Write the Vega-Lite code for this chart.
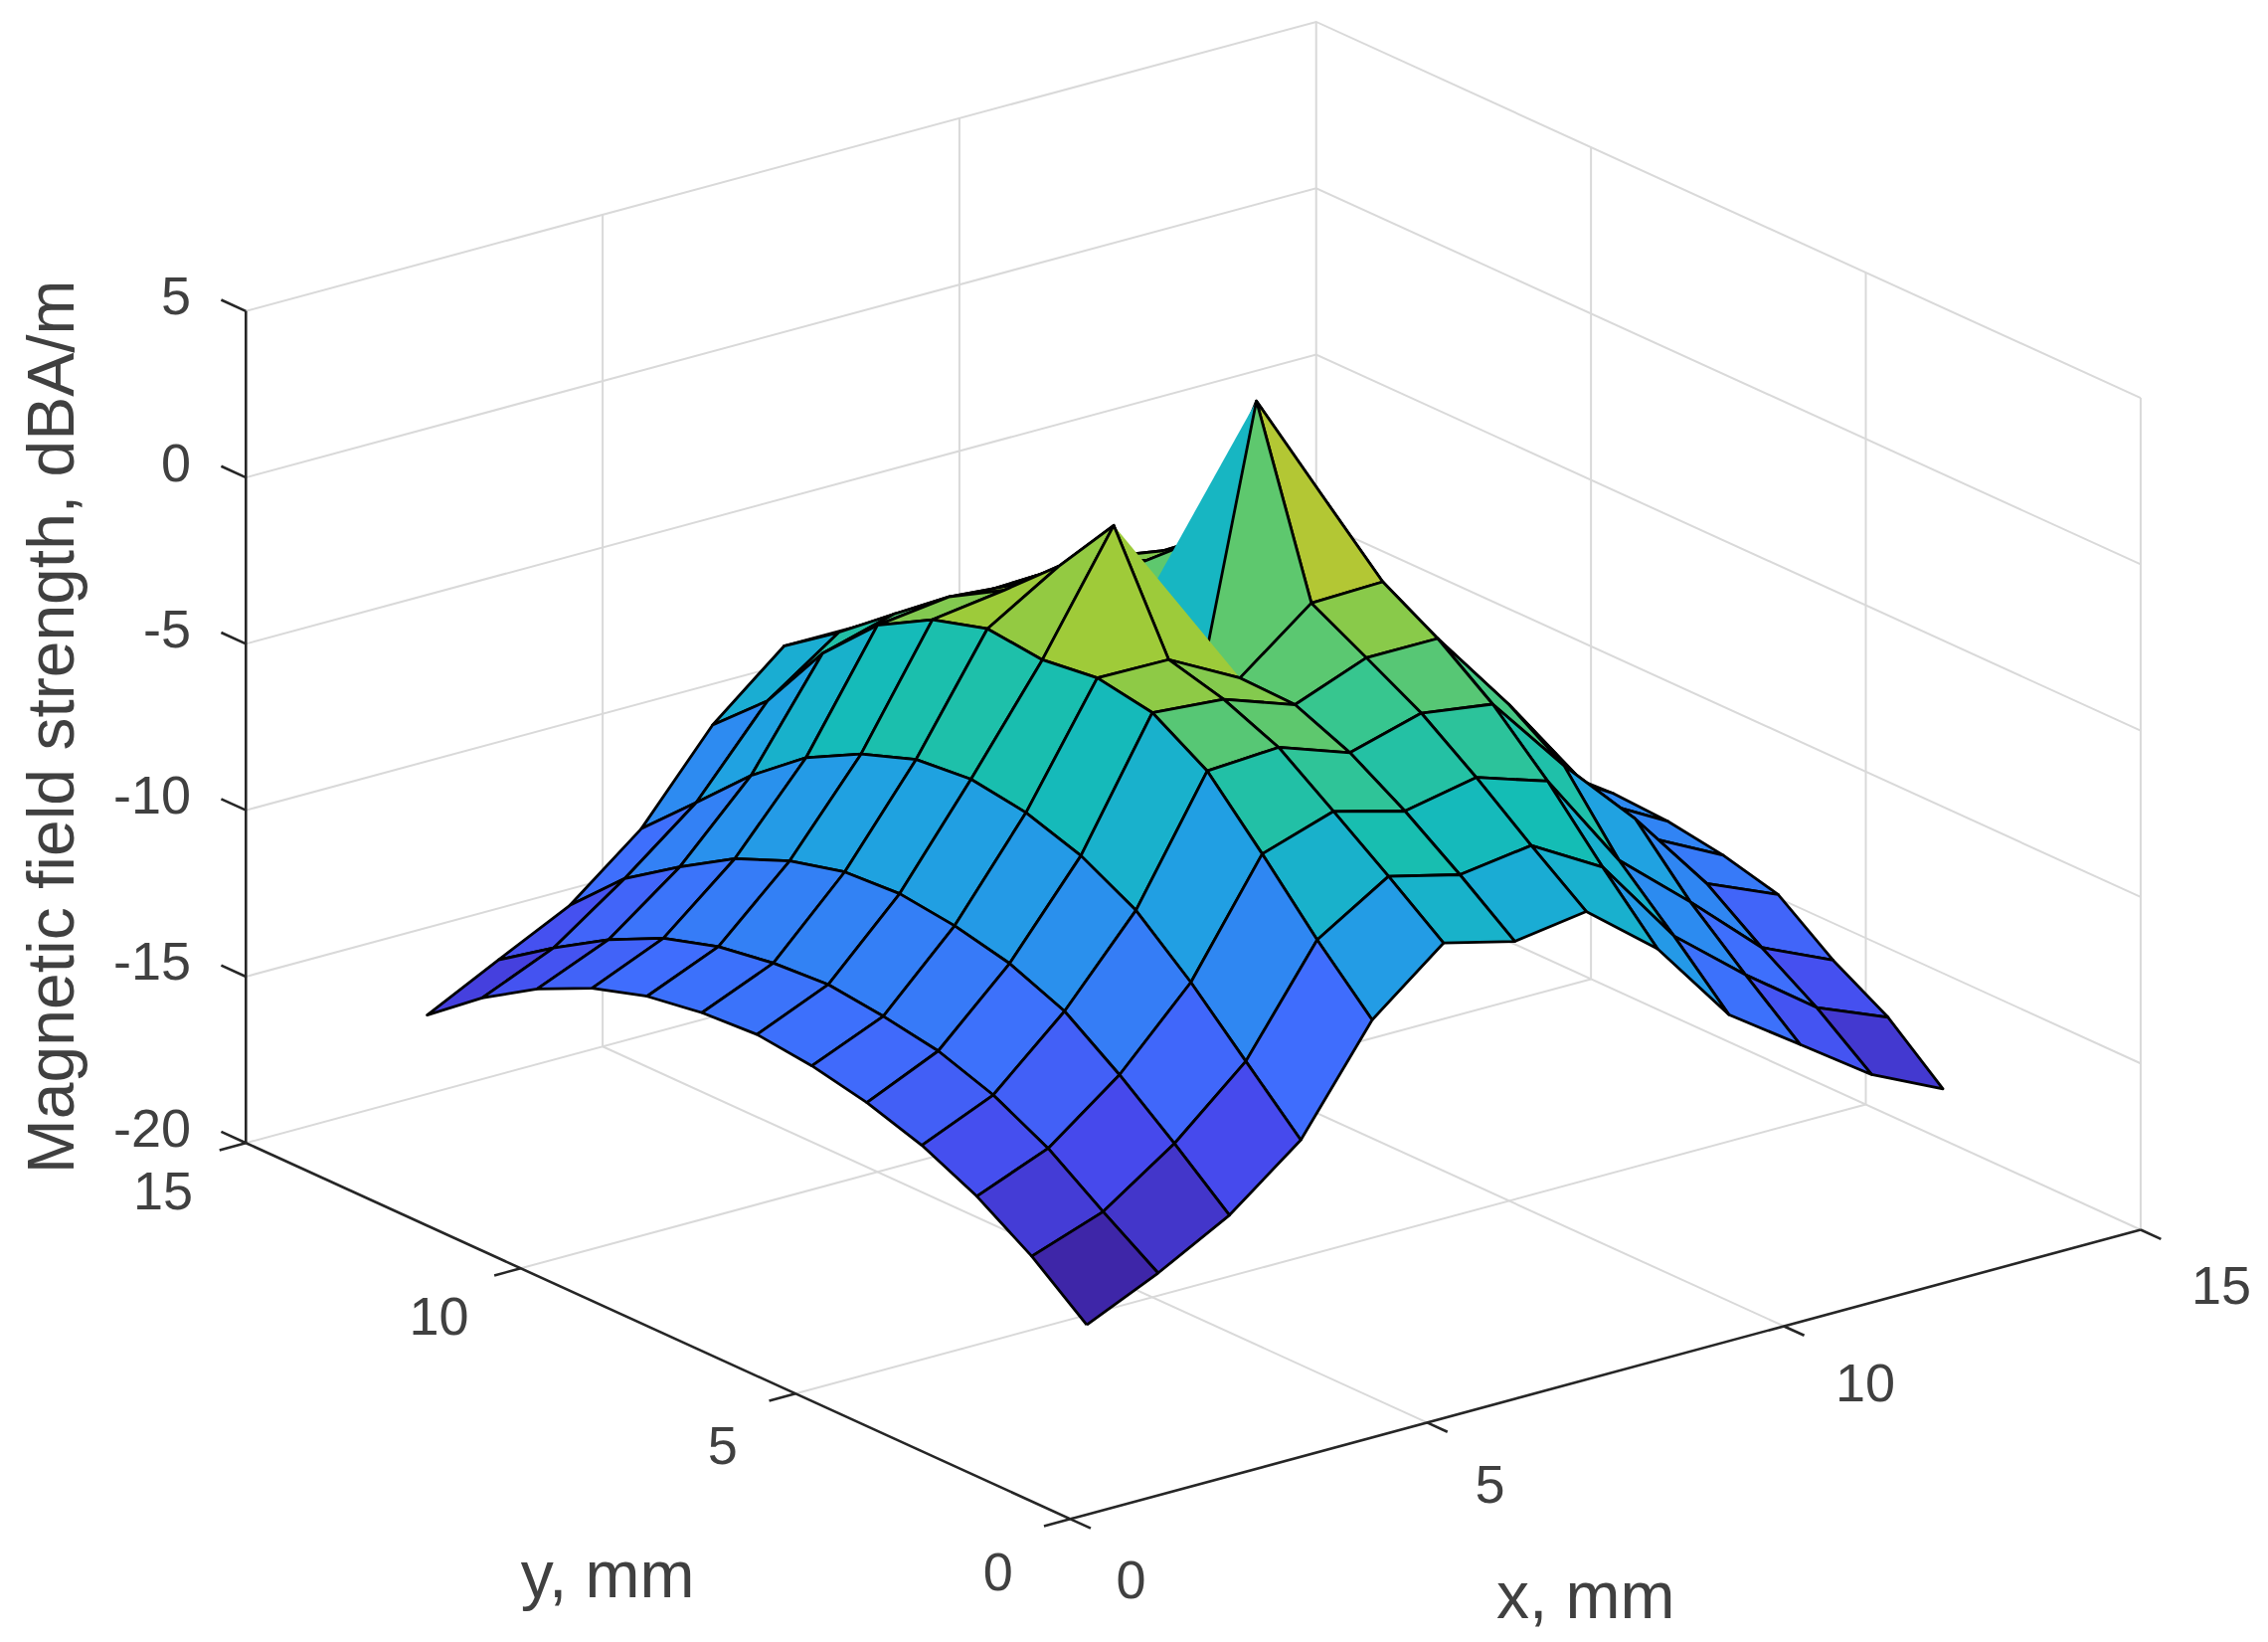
{
  "$schema": "https://vega.github.io/schema/vega-lite/v6.json",
  "width": 2281,
  "height": 1651,
  "padding": 0,
  "autosize": {"type": "none"},
  "background": "white",
  "view": {"stroke": null},
  "datasets": {
    "surface": [
      {"id":"13_13","x":13,"y":13,"z":-15.04},{"id":"13_12","x":13,"y":12,"z":-13.74},{"id":"13_11","x":13,"y":11,"z":-12.7},{"id":"13_10","x":13,"y":10,"z":-11.91},{"id":"13_9","x":13,"y":9,"z":-11.39},{"id":"13_8","x":13,"y":8,"z":-11.09},{"id":"13_7","x":13,"y":7,"z":-11},{"id":"13_6","x":13,"y":6,"z":-11.09},{"id":"13_5","x":13,"y":5,"z":-11.35},{"id":"13_4","x":13,"y":4,"z":-11.78},{"id":"13_3","x":13,"y":3,"z":-13},{"id":"13_2","x":13,"y":2,"z":-13.96},{"id":"13_1","x":13,"y":1,"z":-15.36},
      {"id":"12_13","x":12,"y":13,"z":-13.65},{"id":"12_12","x":12,"y":12,"z":-12.48},{"id":"12_11","x":12,"y":11,"z":-11.43},{"id":"12_10","x":12,"y":10,"z":-10.65},{"id":"12_9","x":12,"y":9,"z":-10.09},{"id":"12_8","x":12,"y":8,"z":-9.83},{"id":"12_7","x":12,"y":7,"z":-9.74},{"id":"12_6","x":12,"y":6,"z":-9.91},{"id":"12_5","x":12,"y":5,"z":-10.26},{"id":"12_4","x":12,"y":4,"z":-10.87},{"id":"12_3","x":12,"y":3,"z":-12.04},{"id":"12_2","x":12,"y":2,"z":-13.09},{"id":"12_1","x":12,"y":1,"z":-14.35},
      {"id":"11_13","x":11,"y":13,"z":-12.61},{"id":"11_12","x":11,"y":12,"z":-11.09},{"id":"11_11","x":11,"y":11,"z":-9.87},{"id":"11_10","x":11,"y":10,"z":-8.87},{"id":"11_9","x":11,"y":9,"z":-8.13},{"id":"11_8","x":11,"y":8,"z":-7.61},{"id":"11_7","x":11,"y":7,"z":-7.48},{"id":"11_6","x":11,"y":6,"z":-7.61},{"id":"11_5","x":11,"y":5,"z":-7.91},{"id":"11_4","x":11,"y":4,"z":-8.35},{"id":"11_3","x":11,"y":3,"z":-10.09},{"id":"11_2","x":11,"y":2,"z":-11.52},{"id":"11_1","x":11,"y":1,"z":-12.87},
      {"id":"10_13","x":10,"y":13,"z":-10.96},{"id":"10_12","x":10,"y":12,"z":-9.3},{"id":"10_11","x":10,"y":11,"z":-7.74},{"id":"10_10","x":10,"y":10,"z":-6.43},{"id":"10_9","x":10,"y":9,"z":-5.57},{"id":"10_8","x":10,"y":8,"z":-5},{"id":"10_7","x":10,"y":7,"z":-4.7},{"id":"10_6","x":10,"y":6,"z":-4.78},{"id":"10_5","x":10,"y":5,"z":-5.09},{"id":"10_4","x":10,"y":4,"z":-6.17},{"id":"10_3","x":10,"y":3,"z":-8.26},{"id":"10_2","x":10,"y":2,"z":-9.78},{"id":"10_1","x":10,"y":1,"z":-11.39},
      {"id":"9_13","x":9,"y":13,"z":-8.78},{"id":"9_12","x":9,"y":12,"z":-7.3},{"id":"9_11","x":9,"y":11,"z":-5.13},{"id":"9_10","x":9,"y":10,"z":-3.65},{"id":"9_9","x":9,"y":9,"z":-2.39},{"id":"9_8","x":9,"y":8,"z":-1.74},{"id":"9_7","x":9,"y":7,"z":0.03},{"id":"9_6","x":9,"y":6,"z":-1.57},{"id":"9_5","x":9,"y":5,"z":-2.52},{"id":"9_4","x":9,"y":4,"z":-3.74},{"id":"9_3","x":9,"y":3,"z":-5.3},{"id":"9_2","x":9,"y":2,"z":-7.13},{"id":"9_1","x":9,"y":1,"z":-8.83},
      {"id":"8_13","x":8,"y":13,"z":-7.04},{"id":"8_12","x":8,"y":12,"z":-5.83},{"id":"8_11","x":8,"y":11,"z":-4.57},{"id":"8_10","x":8,"y":10,"z":-3.3},{"id":"8_9","x":8,"y":9,"z":-2.61},{"id":"8_8","x":8,"y":8,"z":-1.19},{"id":"8_7","x":8,"y":7,"z":3.69},{"id":"8_6","x":8,"y":6,"z":-1.63},{"id":"8_5","x":8,"y":5,"z":-2.52},{"id":"8_4","x":8,"y":4,"z":-3.43},{"id":"8_3","x":8,"y":3,"z":-4.61},{"id":"8_2","x":8,"y":2,"z":-5.9},{"id":"8_1","x":8,"y":1,"z":-7.13},
      {"id":"7_13","x":7,"y":13,"z":-7.04},{"id":"7_12","x":7,"y":12,"z":-6},{"id":"7_11","x":7,"y":11,"z":-4.7},{"id":"7_10","x":7,"y":10,"z":-3.48},{"id":"7_9","x":7,"y":9,"z":-2.83},{"id":"7_8","x":7,"y":8,"z":-3.3},{"id":"7_7","x":7,"y":7,"z":-6.52},{"id":"7_6","x":7,"y":6,"z":-3.3},{"id":"7_5","x":7,"y":5,"z":-3.35},{"id":"7_4","x":7,"y":4,"z":-4.04},{"id":"7_3","x":7,"y":3,"z":-5.04},{"id":"7_2","x":7,"y":2,"z":-6.2},{"id":"7_1","x":7,"y":1,"z":-7.45},
      {"id":"6_13","x":6,"y":13,"z":-7.04},{"id":"6_12","x":6,"y":12,"z":-5.87},{"id":"6_11","x":6,"y":11,"z":-4.57},{"id":"6_10","x":6,"y":10,"z":-3.3},{"id":"6_9","x":6,"y":9,"z":-2.35},{"id":"6_8","x":6,"y":8,"z":-0.87},{"id":"6_7","x":6,"y":7,"z":1.11},{"id":"6_6","x":6,"y":6,"z":-2.17},{"id":"6_5","x":6,"y":5,"z":-2.61},{"id":"6_4","x":6,"y":4,"z":-3.3},{"id":"6_3","x":6,"y":3,"z":-4.47},{"id":"6_2","x":6,"y":2,"z":-5.67},{"id":"6_1","x":6,"y":1,"z":-6.92},
      {"id":"5_13","x":5,"y":13,"z":-8.83},{"id":"5_12","x":5,"y":12,"z":-7.35},{"id":"5_11","x":5,"y":11,"z":-5.17},{"id":"5_10","x":5,"y":10,"z":-3.57},{"id":"5_9","x":5,"y":9,"z":-2.65},{"id":"5_8","x":5,"y":8,"z":-2.17},{"id":"5_7","x":5,"y":7,"z":-2.35},{"id":"5_6","x":5,"y":6,"z":-2.14},{"id":"5_5","x":5,"y":5,"z":-2.43},{"id":"5_4","x":5,"y":4,"z":-3.43},{"id":"5_3","x":5,"y":3,"z":-5.17},{"id":"5_2","x":5,"y":2,"z":-7},{"id":"5_1","x":5,"y":1,"z":-8.65},
      {"id":"4_13","x":4,"y":13,"z":-11.37},{"id":"4_12","x":4,"y":12,"z":-9.83},{"id":"4_11","x":4,"y":11,"z":-8.26},{"id":"4_10","x":4,"y":10,"z":-6.97},{"id":"4_9","x":4,"y":9,"z":-6.11},{"id":"4_8","x":4,"y":8,"z":-5.52},{"id":"4_7","x":4,"y":7,"z":-5.36},{"id":"4_6","x":4,"y":6,"z":-5.61},{"id":"4_5","x":4,"y":5,"z":-6.15},{"id":"4_4","x":4,"y":4,"z":-7.04},{"id":"4_3","x":4,"y":3,"z":-8.45},{"id":"4_2","x":4,"y":2,"z":-10.07},{"id":"4_1","x":4,"y":1,"z":-11.68},
      {"id":"3_13","x":3,"y":13,"z":-13.09},{"id":"3_12","x":3,"y":12,"z":-11.53},{"id":"3_11","x":3,"y":11,"z":-10.43},{"id":"3_10","x":3,"y":10,"z":-9.43},{"id":"3_9","x":3,"y":9,"z":-8.74},{"id":"3_8","x":3,"y":8,"z":-8.32},{"id":"3_7","x":3,"y":7,"z":-8.22},{"id":"3_6","x":3,"y":6,"z":-8.43},{"id":"3_5","x":3,"y":5,"z":-8.81},{"id":"3_4","x":3,"y":4,"z":-9.49},{"id":"3_3","x":3,"y":3,"z":-10.65},{"id":"3_2","x":3,"y":2,"z":-11.96},{"id":"3_1","x":3,"y":1,"z":-13.36},
      {"id":"2_13","x":2,"y":13,"z":-14.15},{"id":"2_12","x":2,"y":12,"z":-13.04},{"id":"2_11","x":2,"y":11,"z":-12.04},{"id":"2_10","x":2,"y":10,"z":-11.24},{"id":"2_9","x":2,"y":9,"z":-10.74},{"id":"2_8","x":2,"y":8,"z":-10.48},{"id":"2_7","x":2,"y":7,"z":-10.37},{"id":"2_6","x":2,"y":6,"z":-10.57},{"id":"2_5","x":2,"y":5,"z":-10.86},{"id":"2_4","x":2,"y":4,"z":-11.43},{"id":"2_3","x":2,"y":3,"z":-12.28},{"id":"2_2","x":2,"y":2,"z":-13.43},{"id":"2_1","x":2,"y":1,"z":-14.52},
      {"id":"1_13","x":1,"y":13,"z":-15.23},{"id":"1_12","x":1,"y":12,"z":-13.96},{"id":"1_11","x":1,"y":11,"z":-12.94},{"id":"1_10","x":1,"y":10,"z":-12.16},{"id":"1_9","x":1,"y":9,"z":-11.65},{"id":"1_8","x":1,"y":8,"z":-11.39},{"id":"1_7","x":1,"y":7,"z":-11.29},{"id":"1_6","x":1,"y":6,"z":-11.48},{"id":"1_5","x":1,"y":5,"z":-11.83},{"id":"1_4","x":1,"y":4,"z":-12.36},{"id":"1_3","x":1,"y":3,"z":-13.14},{"id":"1_2","x":1,"y":2,"z":-14.19},{"id":"1_1","x":1,"y":1,"z":-15.5}
    ],
    "grid": [
      {"line":"fx5","x":5,"y":0,"z":-20},{"line":"fx5","x":5,"y":15,"z":-20},
      {"line":"fx10","x":10,"y":0,"z":-20},{"line":"fx10","x":10,"y":15,"z":-20},
      {"line":"fx15","x":15,"y":0,"z":-20},{"line":"fx15","x":15,"y":15,"z":-20},
      {"line":"fy5","x":0,"y":5,"z":-20},{"line":"fy5","x":15,"y":5,"z":-20},
      {"line":"fy10","x":0,"y":10,"z":-20},{"line":"fy10","x":15,"y":10,"z":-20},
      {"line":"fy15","x":0,"y":15,"z":-20},{"line":"fy15","x":15,"y":15,"z":-20},
      {"line":"z-15","x":0,"y":15,"z":-15},{"line":"z-15","x":15,"y":15,"z":-15},{"line":"z-15","x":15,"y":0,"z":-15},
      {"line":"z-10","x":0,"y":15,"z":-10},{"line":"z-10","x":15,"y":15,"z":-10},{"line":"z-10","x":15,"y":0,"z":-10},
      {"line":"z-5","x":0,"y":15,"z":-5},{"line":"z-5","x":15,"y":15,"z":-5},{"line":"z-5","x":15,"y":0,"z":-5},
      {"line":"z0","x":0,"y":15,"z":0},{"line":"z0","x":15,"y":15,"z":0},{"line":"z0","x":15,"y":0,"z":0},
      {"line":"z5","x":0,"y":15,"z":5},{"line":"z5","x":15,"y":15,"z":5},{"line":"z5","x":15,"y":0,"z":5},
      {"line":"vx5","x":5,"y":15,"z":-20},{"line":"vx5","x":5,"y":15,"z":5},
      {"line":"vx10","x":10,"y":15,"z":-20},{"line":"vx10","x":10,"y":15,"z":5},
      {"line":"vx15","x":15,"y":15,"z":-20},{"line":"vx15","x":15,"y":15,"z":5},
      {"line":"vy10","x":15,"y":10,"z":-20},{"line":"vy10","x":15,"y":10,"z":5},
      {"line":"vy5","x":15,"y":5,"z":-20},{"line":"vy5","x":15,"y":5,"z":5},
      {"line":"vy0","x":15,"y":0,"z":-20},{"line":"vy0","x":15,"y":0,"z":5}
    ],
    "axes": [
      {"line":"ax","x":0,"y":0,"z":-20},{"line":"ax","x":15,"y":0,"z":-20},
      {"line":"ay","x":0,"y":0,"z":-20},{"line":"ay","x":0,"y":15,"z":-20},
      {"line":"az","x":0,"y":15,"z":-20},{"line":"az","x":0,"y":15,"z":5},
      {"line":"tx0","x":0,"y":0,"z":-20},{"line":"tx0","x":0,"y":-0.37,"z":-20},
      {"line":"tx5","x":5,"y":0,"z":-20},{"line":"tx5","x":5,"y":-0.37,"z":-20},
      {"line":"tx10","x":10,"y":0,"z":-20},{"line":"tx10","x":10,"y":-0.37,"z":-20},
      {"line":"tx15","x":15,"y":0,"z":-20},{"line":"tx15","x":15,"y":-0.37,"z":-20},
      {"line":"ty0","x":0,"y":0,"z":-20},{"line":"ty0","x":-0.37,"y":0,"z":-20},
      {"line":"ty5","x":0,"y":5,"z":-20},{"line":"ty5","x":-0.37,"y":5,"z":-20},
      {"line":"ty10","x":0,"y":10,"z":-20},{"line":"ty10","x":-0.37,"y":10,"z":-20},
      {"line":"ty15","x":0,"y":15,"z":-20},{"line":"ty15","x":-0.37,"y":15,"z":-20},
      {"line":"tz-20","x":0,"y":15,"z":-20},{"line":"tz-20","x":0,"y":15.45,"z":-20},
      {"line":"tz-15","x":0,"y":15,"z":-15},{"line":"tz-15","x":0,"y":15.45,"z":-15},
      {"line":"tz-10","x":0,"y":15,"z":-10},{"line":"tz-10","x":0,"y":15.45,"z":-10},
      {"line":"tz-5","x":0,"y":15,"z":-5},{"line":"tz-5","x":0,"y":15.45,"z":-5},
      {"line":"tz0","x":0,"y":15,"z":0},{"line":"tz0","x":0,"y":15.45,"z":0},
      {"line":"tz5","x":0,"y":15,"z":5},{"line":"tz5","x":0,"y":15.45,"z":5}
    ],
    "ticks": [
      {"label":"0","x":-0.69,"y":-2,"z":-20},{"label":"5","x":4.31,"y":-2.04,"z":-20},{"label":"10","x":9.57,"y":-2.04,"z":-20},{"label":"15","x":14.59,"y":-2,"z":-20},
      {"label":"0","x":-1.7,"y":-0.89,"z":-20},{"label":"5","x":-1.7,"y":4.12,"z":-20},{"label":"10","x":-1.7,"y":9.28,"z":-20},{"label":"15","x":-1.7,"y":14.3,"z":-20}
    ],
    "zticks": [
      {"label":"-20","x":0,"y":16,"z":-20.38},{"label":"-15","x":0,"y":16,"z":-15.38},{"label":"-10","x":0,"y":16,"z":-10.38},{"label":"-5","x":0,"y":16,"z":-5.38},{"label":"0","x":0,"y":16,"z":-0.38},{"label":"5","x":0,"y":16,"z":4.62}
    ],
    "titles": [
      {"label":"x, mm","x":3,"y":-5.48,"z":-20},{"label":"y, mm","x":-5.19,"y":1.68,"z":-20}
    ],
    "ztitle": [
      {"label":"Magnetic field strength, dBA/m","x":0,"y":18.5,"z":-10.13}
    ]
  },
  "layer": [
    {
      "data": {"name": "grid"},
      "transform": [
        {"calculate": "740 + 49.33 * datum.x - 38 * datum.y", "as": "sx"},
        {"calculate": "1050 - 13.33 * datum.x - 17.33 * datum.y - 23 * (datum.z + 20)", "as": "sy"}
      ],
      "mark": {"type": "line", "stroke": "#d9d9d9", "strokeWidth": 2},
      "encoding": {
        "x": {"field": "sx", "type": "quantitative", "scale": {"domain": [0, 1568], "nice": false, "zero": false}, "axis": null},
        "y": {"field": "sy", "type": "quantitative", "scale": {"domain": [1135, 0], "nice": false, "zero": false}, "axis": null},
        "detail": {"field": "line"}
      }
    },
    {
      "data": {"name": "axes"},
      "transform": [
        {"calculate": "740 + 49.33 * datum.x - 38 * datum.y", "as": "sx"},
        {"calculate": "1050 - 13.33 * datum.x - 17.33 * datum.y - 23 * (datum.z + 20)", "as": "sy"}
      ],
      "mark": {"type": "line", "stroke": "#262626", "strokeWidth": 2.6},
      "encoding": {
        "x": {"field": "sx", "type": "quantitative", "axis": null},
        "y": {"field": "sy", "type": "quantitative", "axis": null},
        "detail": {"field": "line"}
      }
    },
    {
      "data": {"name": "surface"},
      "transform": [
        {"filter": "datum.x < 13 && datum.y < 13"},
        {"calculate": "[0, 1, 2, 3, 4]", "as": "v"},
        {"flatten": ["v"]},
        {"calculate": "datum.x + [0, 1, 1, 0, 0][datum.v]", "as": "vx"},
        {"calculate": "datum.y + [0, 0, 1, 1, 0][datum.v]", "as": "vy"},
        {"calculate": "datum.vx + '_' + datum.vy", "as": "corner"},
        {"lookup": "corner", "from": {"data": {"name": "surface"}, "key": "id", "fields": ["z"]}, "as": ["vz"]},
        {"filter": "!((datum.id == '6_6' || datum.id == '7_7') && (datum.v == 2 || datum.v == 4))"},
        {"calculate": "datum.id == '6_6' && datum.v == 3 ? -1 : datum.v", "as": "seq"},
        {"calculate": "740 + 49.33 * datum.vx - 38 * datum.vy", "as": "sx"},
        {"calculate": "1050 - 13.33 * datum.vx - 17.33 * datum.vy - 23 * (datum.vz + 20)", "as": "sy"}
      ],
      "mark": {"type": "line", "strokeWidth": 2.8, "strokeJoin": "round"},
      "encoding": {
        "x": {"field": "sx", "type": "quantitative", "axis": null},
        "y": {"field": "sy", "type": "quantitative", "axis": null},
        "detail": {"field": "id"},
        "order": {"field": "seq", "type": "quantitative"},
        "stroke": {"condition": {"test": "datum.id == '7_7'", "value": "transparent"}, "value": "#000000"},
        "fill": {
          "field": "z",
          "type": "quantitative",
          "legend": null,
          "scale": {
            "interpolate": "rgb",
            "domain": [-15.5, -13.58, -11.66, -9.74, -7.82, -5.9, -3.98, -2.06, -0.14, 1.77, 3.69],
            "range": ["#3e26a8", "#4746eb", "#3f6dfd", "#2c8cf0", "#1ca8dc", "#14bdb5", "#38c68e", "#a3cb35", "#ebbb2f", "#fdc53a", "#f9fb15"]
          }
        }
      }
    },
    {
      "data": {"name": "ticks"},
      "transform": [
        {"calculate": "740 + 49.33 * datum.x - 38 * datum.y", "as": "sx"},
        {"calculate": "1050 - 13.33 * datum.x - 17.33 * datum.y - 23 * (datum.z + 20)", "as": "sy"}
      ],
      "mark": {"type": "text", "font": "Liberation Sans", "fontSize": 54, "color": "#404040", "align": "center", "baseline": "middle"},
      "encoding": {
        "x": {"field": "sx", "type": "quantitative", "axis": null},
        "y": {"field": "sy", "type": "quantitative", "axis": null},
        "text": {"field": "label"}
      }
    },
    {
      "data": {"name": "zticks"},
      "transform": [
        {"calculate": "740 + 49.33 * datum.x - 38 * datum.y", "as": "sx"},
        {"calculate": "1050 - 13.33 * datum.x - 17.33 * datum.y - 23 * (datum.z + 20)", "as": "sy"}
      ],
      "mark": {"type": "text", "font": "Liberation Sans", "fontSize": 54, "color": "#404040", "align": "right", "baseline": "middle"},
      "encoding": {
        "x": {"field": "sx", "type": "quantitative", "axis": null},
        "y": {"field": "sy", "type": "quantitative", "axis": null},
        "text": {"field": "label"}
      }
    },
    {
      "data": {"name": "titles"},
      "transform": [
        {"calculate": "740 + 49.33 * datum.x - 38 * datum.y", "as": "sx"},
        {"calculate": "1050 - 13.33 * datum.x - 17.33 * datum.y - 23 * (datum.z + 20)", "as": "sy"}
      ],
      "mark": {"type": "text", "font": "Liberation Sans", "fontSize": 66, "color": "#404040", "align": "center", "baseline": "middle"},
      "encoding": {
        "x": {"field": "sx", "type": "quantitative", "axis": null},
        "y": {"field": "sy", "type": "quantitative", "axis": null},
        "text": {"field": "label"}
      }
    },
    {
      "data": {"name": "ztitle"},
      "transform": [
        {"calculate": "740 + 49.33 * datum.x - 38 * datum.y", "as": "sx"},
        {"calculate": "1050 - 13.33 * datum.x - 17.33 * datum.y - 23 * (datum.z + 20)", "as": "sy"}
      ],
      "mark": {"type": "text", "font": "Liberation Sans", "fontSize": 66, "color": "#404040", "align": "center", "baseline": "middle", "angle": 270},
      "encoding": {
        "x": {"field": "sx", "type": "quantitative", "axis": null},
        "y": {"field": "sy", "type": "quantitative", "axis": null},
        "text": {"field": "label"}
      }
    }
  ]
}
